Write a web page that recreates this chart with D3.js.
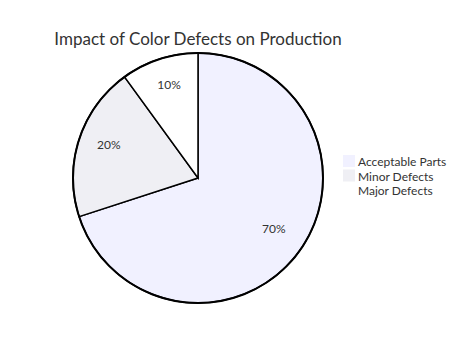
<!DOCTYPE html>
<html><head><meta charset="utf-8">
<script src="https://cdn.jsdelivr.net/npm/d3@7"></script>
<style>
html,body{margin:0;padding:0;background:#fff;}
svg{display:block;}
text{font-family:Lato,"DejaVu Sans",sans-serif;fill:#333;}
</style></head>
<body>
<svg id="chart" width="474" height="356"></svg>
<script>
const title = "Impact of Color Defects on Production";
const categories = ["Acceptable Parts", "Minor Defects", "Major Defects"];
const values = [70, 20, 10];
const colors = ["#F1F1FF", "#EFEFF4", "#FFFFFF"];

const svg = d3.select("#chart");
const cx = 198, cy = 178, R = 125;

svg.append("text").attr("x", cx).attr("y", 45).attr("text-anchor", "middle")
  .style("font-size", "17px").text(title);

const data = categories.map((c, i) => ({ label: c, value: values[i], color: colors[i] }));
const pie = d3.pie().value(d => d.value).sort(null);
const arcs = pie(data);
const arc = d3.arc().innerRadius(0).outerRadius(R);
const labelArc = d3.arc().innerRadius(R * 0.75).outerRadius(R * 0.75);
const total = d3.sum(values);

const g = svg.append("g").attr("transform", `translate(${cx},${cy})`);
g.selectAll("path.slice").data(arcs).join("path")
  .attr("d", arc).attr("fill", d => d.data.color)
  .attr("stroke", "#000").attr("stroke-width", 1.5);
g.append("circle").attr("r", R).attr("fill", "none").attr("stroke", "#000").attr("stroke-width", 2);
g.selectAll("text.lbl").data(arcs).join("text")
  .attr("transform", d => `translate(${labelArc.centroid(d)})`)
  .attr("text-anchor", "middle")
  .style("font-size", "12px")
  .text(d => Math.round(d.data.value / total * 100) + "%");

const leg = svg.append("g").attr("transform", "translate(343,155)");
const items = leg.selectAll("g").data(data).join("g")
  .attr("transform", (d, i) => `translate(0,${i * 14.5})`);
items.append("rect").attr("width", 12).attr("height", 12).attr("fill", d => d.color);
items.append("text").attr("x", 15).attr("y", 11).style("font-size", "12px").text(d => d.label);
</script>
</body></html>
